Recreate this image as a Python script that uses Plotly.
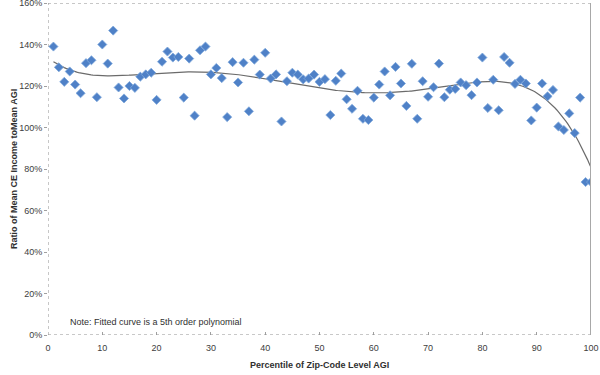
import numpy as np
import plotly.graph_objects as go

# Percentile of zip-code level AGI
percentile = list(range(1, 101))
# Ratio of mean CE income to mean AGI (%)
ratio = [
    139, 129, 122, 127, 120.7, 116.5, 131, 132.4, 114.6, 140,
    130.8, 146.7, 119.3, 114, 120, 119.1, 124.5, 125.6, 126.4, 113.3,
    131.7, 136.6, 133.7, 134, 114.4, 133.2, 105.7, 137.2, 139, 125.6,
    128.7, 123.8, 105, 131.5, 121.7, 131.2, 107.8, 132.7, 125.5, 136,
    123.6, 125.6, 102.9, 122.3, 126.4, 125.5, 123.2, 123.6, 125.5, 122,
    123.3, 106, 122.5, 126, 113.6, 109, 117.7, 104.2, 103.6, 114.4,
    120.7, 127, 115.5, 129.2, 121.2, 110.4, 130.7, 104.2, 122.3, 114.8,
    119.4, 130.8, 114.6, 118.2, 118.6, 121.7, 120.4, 115.6, 121.7, 133.7,
    109.4, 123, 108.3, 134, 131.2, 121, 123, 121.2, 103.4, 109.6,
    121.2, 115, 118.1, 100.5, 98.8, 106.8, 97.3, 114.4, 73.7, 73.7,
]
y_ticks = [0, 20, 40, 60, 80, 100, 120, 140, 160]
y_tick_labels = [f"{v}%" for v in y_ticks]
x_ticks = [0, 10, 20, 30, 40, 50, 60, 70, 80, 90, 100]

# 5th order polynomial trend line fitted to the data
coef = np.polyfit(percentile, ratio, 5)
xf = np.linspace(1, 100, 300)
yf = np.polyval(coef, xf)

font = "Liberation Sans"
fig = go.Figure()
fig.add_trace(go.Scatter(
    x=xf, y=yf, mode="lines",
    line=dict(color="#6b6b6b", width=1.2), hoverinfo="skip", showlegend=False,
))
fig.add_trace(go.Scatter(
    x=percentile, y=ratio, mode="markers",
    marker=dict(symbol="diamond", size=7, color="#4f81c7",
                line=dict(color="#7fa8dc", width=0.8)),
    showlegend=False,
))

fig.update_layout(
    width=600, height=375,
    margin=dict(l=48, r=9, t=3, b=40),
    paper_bgcolor="white", plot_bgcolor="white",
    font=dict(family=font, size=9, color="#404040"),
    xaxis=dict(range=[0, 100], tickvals=x_ticks, showgrid=False, zeroline=False,
               showline=False, ticks="inside", ticklen=3, tickcolor="#a0a0a0",
               tickfont=dict(size=9), automargin=False, ticklabeloverflow="allow",
               ticklabelstandoff=6),
    yaxis=dict(range=[0, 160], tickvals=y_ticks, ticktext=y_tick_labels,
               showgrid=False, zeroline=False, showline=False,
               ticks="outside", ticklen=3, tickcolor="#a0a0a0",
               tickfont=dict(size=9), automargin=False, ticklabeloverflow="allow"),
    shapes=[
        dict(type="line", xref="x", yref="paper", x0=0, x1=0, y0=0, y1=1,
             line=dict(color="#909090", width=1, dash="dot")),
        dict(type="line", xref="paper", yref="y", x0=0, x1=1, y0=0, y1=0,
             line=dict(color="#909090", width=1, dash="dot")),
        dict(type="line", xref="paper", yref="y", x0=0, x1=1, y0=160, y1=160,
             line=dict(color="#909090", width=1, dash="dot")),
        dict(type="line", xref="x", yref="paper", x0=100, x1=100, y0=0, y1=1,
             line=dict(color="#a8a8a8", width=2)),
    ],
    annotations=[
        dict(text="Note: Fitted curve is a 5th order polynomial", xref="x", yref="y",
             x=3.6, y=6.5, xanchor="left", yanchor="middle", showarrow=False,
             font=dict(size=9, color="#303030")),
        dict(text="<b>Percentile of Zip-Code Level AGI</b>", xref="paper", yref="paper",
             x=0.5, y=0, yshift=-30, xanchor="center", yanchor="middle",
             showarrow=False, font=dict(size=9, color="#303030")),
        dict(text="<b>Ratio of Mean CE Income toMean AGI</b>", xref="paper", yref="paper",
             x=0, y=0.5, xshift=-34, xanchor="center", yanchor="middle",
             textangle=-90, showarrow=False, font=dict(size=9, color="#303030")),
    ],
)

fig.write_html("out.html", config={"displayModeBar": False},
               post_script="document.body.style.margin='0';")
